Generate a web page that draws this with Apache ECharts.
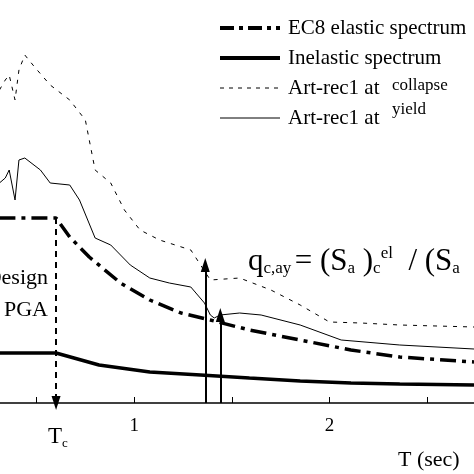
<!DOCTYPE html>
<html><head><meta charset="utf-8">
<script src="https://cdn.jsdelivr.net/npm/echarts@6/dist/echarts.min.js"></script>
<style>html,body{margin:0;background:#fff}#c{width:474px;height:474px}</style>
</head><body><div id="c"></div>
<script>
// period T (sec) and spectral ordinate (arbitrary units)
const elasticT = [0.31, 0.6, 0.67, 0.77, 0.93, 1.08, 1.24, 1.39, 1.59, 1.85, 2.11, 2.36, 2.74]
const elasticS = [185, 185, 166, 146, 120, 103, 90, 83, 73, 63, 53, 46, 41]
const inelasticT = [0.31, 0.6, 0.82, 1.08, 1.34, 1.59, 1.85, 2.11, 2.36, 2.74]
const inelasticS = [50, 50, 38, 31, 28, 25, 22, 20, 19, 18]
const yieldT = [0.31, 0.34, 0.36, 0.39, 0.41, 0.44, 0.52, 0.57, 0.67, 0.72, 0.8, 0.88, 0.98, 1.08, 1.18, 1.29, 1.36, 1.39, 1.41, 1.44, 1.54, 1.65, 1.85, 2.06, 2.36, 2.74]
const yieldS = [220, 225, 233, 203, 243, 245, 233, 220, 218, 203, 165, 158, 138, 125, 120, 116, 100, 88, 85, 88, 90, 88, 78, 63, 58, 54]
const collapseT = [0.31, 0.34, 0.36, 0.39, 0.41, 0.44, 0.49, 0.57, 0.67, 0.75, 0.8, 0.88, 0.95, 1.03, 1.13, 1.29, 1.34, 1.39, 1.54, 1.7, 1.85, 2.0, 2.16, 2.36, 2.74]
const collapseS = [313, 323, 328, 303, 333, 348, 336, 318, 303, 283, 233, 220, 193, 173, 163, 153, 138, 123, 125, 113, 98, 81, 80, 78, 76]
const Tc = 0.6
const arrowT = [1.364, 1.441]
const arrowTop = [138, 88]
const tickValues = [0.5, 1, 1.5, 2, 2.5]
const labelValues = [1, 2]

const zip = (a, b) => a.map((t, i) => [t, b[i]])
const chart = echarts.init(document.getElementById('c'))
const font = 'Liberation Serif'
const lineSample = (y, style) => ({ type: 'line', shape: { x1: 220, y1: y, x2: 280, y2: y }, style: Object.assign({ stroke: '#000' }, style) })
const label = (x, y, text, size) => ({ type: 'text', x, y, style: { text, font: `${size || 21}px "${font}"`, fill: '#000', textVerticalAlign: 'middle' } })

chart.setOption({
  animation: false,
  grid: { left: 0, right: 0, top: 0, bottom: 71 },
  xAxis: {
    type: 'value', min: 0.313, max: 2.74,
    splitLine: { show: false },
    axisLine: { lineStyle: { color: '#000', width: 1.5 } },
    axisTick: { inside: true, length: 6, customValues: tickValues, lineStyle: { color: '#000' } },
    axisLabel: { color: '#000', fontFamily: font, fontSize: 19, margin: 14, customValues: labelValues }
  },
  yAxis: { type: 'value', min: 0, max: 403, show: false },
  series: [
    { type: 'line', data: zip(collapseT, collapseS), symbol: 'none', lineStyle: { color: '#000', width: 1, type: [4, 6] } },
    { type: 'line', data: zip(yieldT, yieldS), symbol: 'none', lineStyle: { color: '#000', width: 1 } },
    { type: 'line', data: zip(elasticT, elasticS), symbol: 'none', lineStyle: { color: '#000', width: 3.5, type: [16, 6, 4, 6] } },
    { type: 'line', data: zip(inelasticT, inelasticS), symbol: 'none', lineStyle: { color: '#000', width: 3.5 },
      markLine: {
        silent: true, symbol: ['none', 'triangle'], symbolSize: [9, 14], label: { show: false },
        lineStyle: { color: '#000', width: 2, type: 'solid' },
        data: [
          [{ coord: [arrowT[0], 0] }, { coord: [arrowT[0], arrowTop[0]] }],
          [{ coord: [arrowT[1], 0] }, { coord: [arrowT[1], arrowTop[1]] }],
          [{ coord: [Tc, 185], lineStyle: { type: [6, 5], width: 2 } }, { coord: [Tc, 0], lineStyle: { type: [6, 5], width: 2 } }]
        ]
      } }
  ],
  graphic: [
    lineSample(28, { lineWidth: 4, lineDash: [14, 5, 4, 5] }),
    lineSample(58, { lineWidth: 4 }),
    lineSample(88, { lineWidth: 1, lineDash: [4, 5] }),
    lineSample(118, { lineWidth: 1 }),
    label(288, 28, 'EC8 elastic spectrum'),
    label(288, 58, 'Inelastic spectrum'),
    label(288, 88, 'Art-rec1 at'),
    label(392, 86, 'collapse', 17),
    label(392, 110, 'yield', 17),
    label(288, 118, 'Art-rec1 at'),
    { type: 'text', x: 248, y: 262, style: { text: '{b|q}{s|c,ay} {b|= (S}{s|a}{b| )}{s|c}{s2|el}{b|  / (S}{s|a}', fill: '#000',
      textVerticalAlign: 'middle',
      rich: { b: { fontSize: 31, fontFamily: font }, s: { fontSize: 17, fontFamily: font, padding: [14, 0, 0, 0] }, s2: { fontSize: 17, fontFamily: font, padding: [0, 0, 16, 0] } } } },
    { type: 'text', x: 48, y: 278, style: { text: 'Design', font: `22px "${font}"`, fill: '#000', align: 'right', textVerticalAlign: 'middle' } },
    { type: 'text', x: 48, y: 310, style: { text: 'PGA', font: `22px "${font}"`, fill: '#000', align: 'right', textVerticalAlign: 'middle' } },
    { type: 'text', x: 48, y: 437, style: { text: '{b|T}{s|c}', fill: '#000', textVerticalAlign: 'middle',
      rich: { b: { fontSize: 23, fontFamily: font }, s: { fontSize: 13, fontFamily: font, padding: [14, 0, 0, 0] } } } },
    label(398, 460, 'T (sec)', 22)
  ]
})
</script></body></html>
